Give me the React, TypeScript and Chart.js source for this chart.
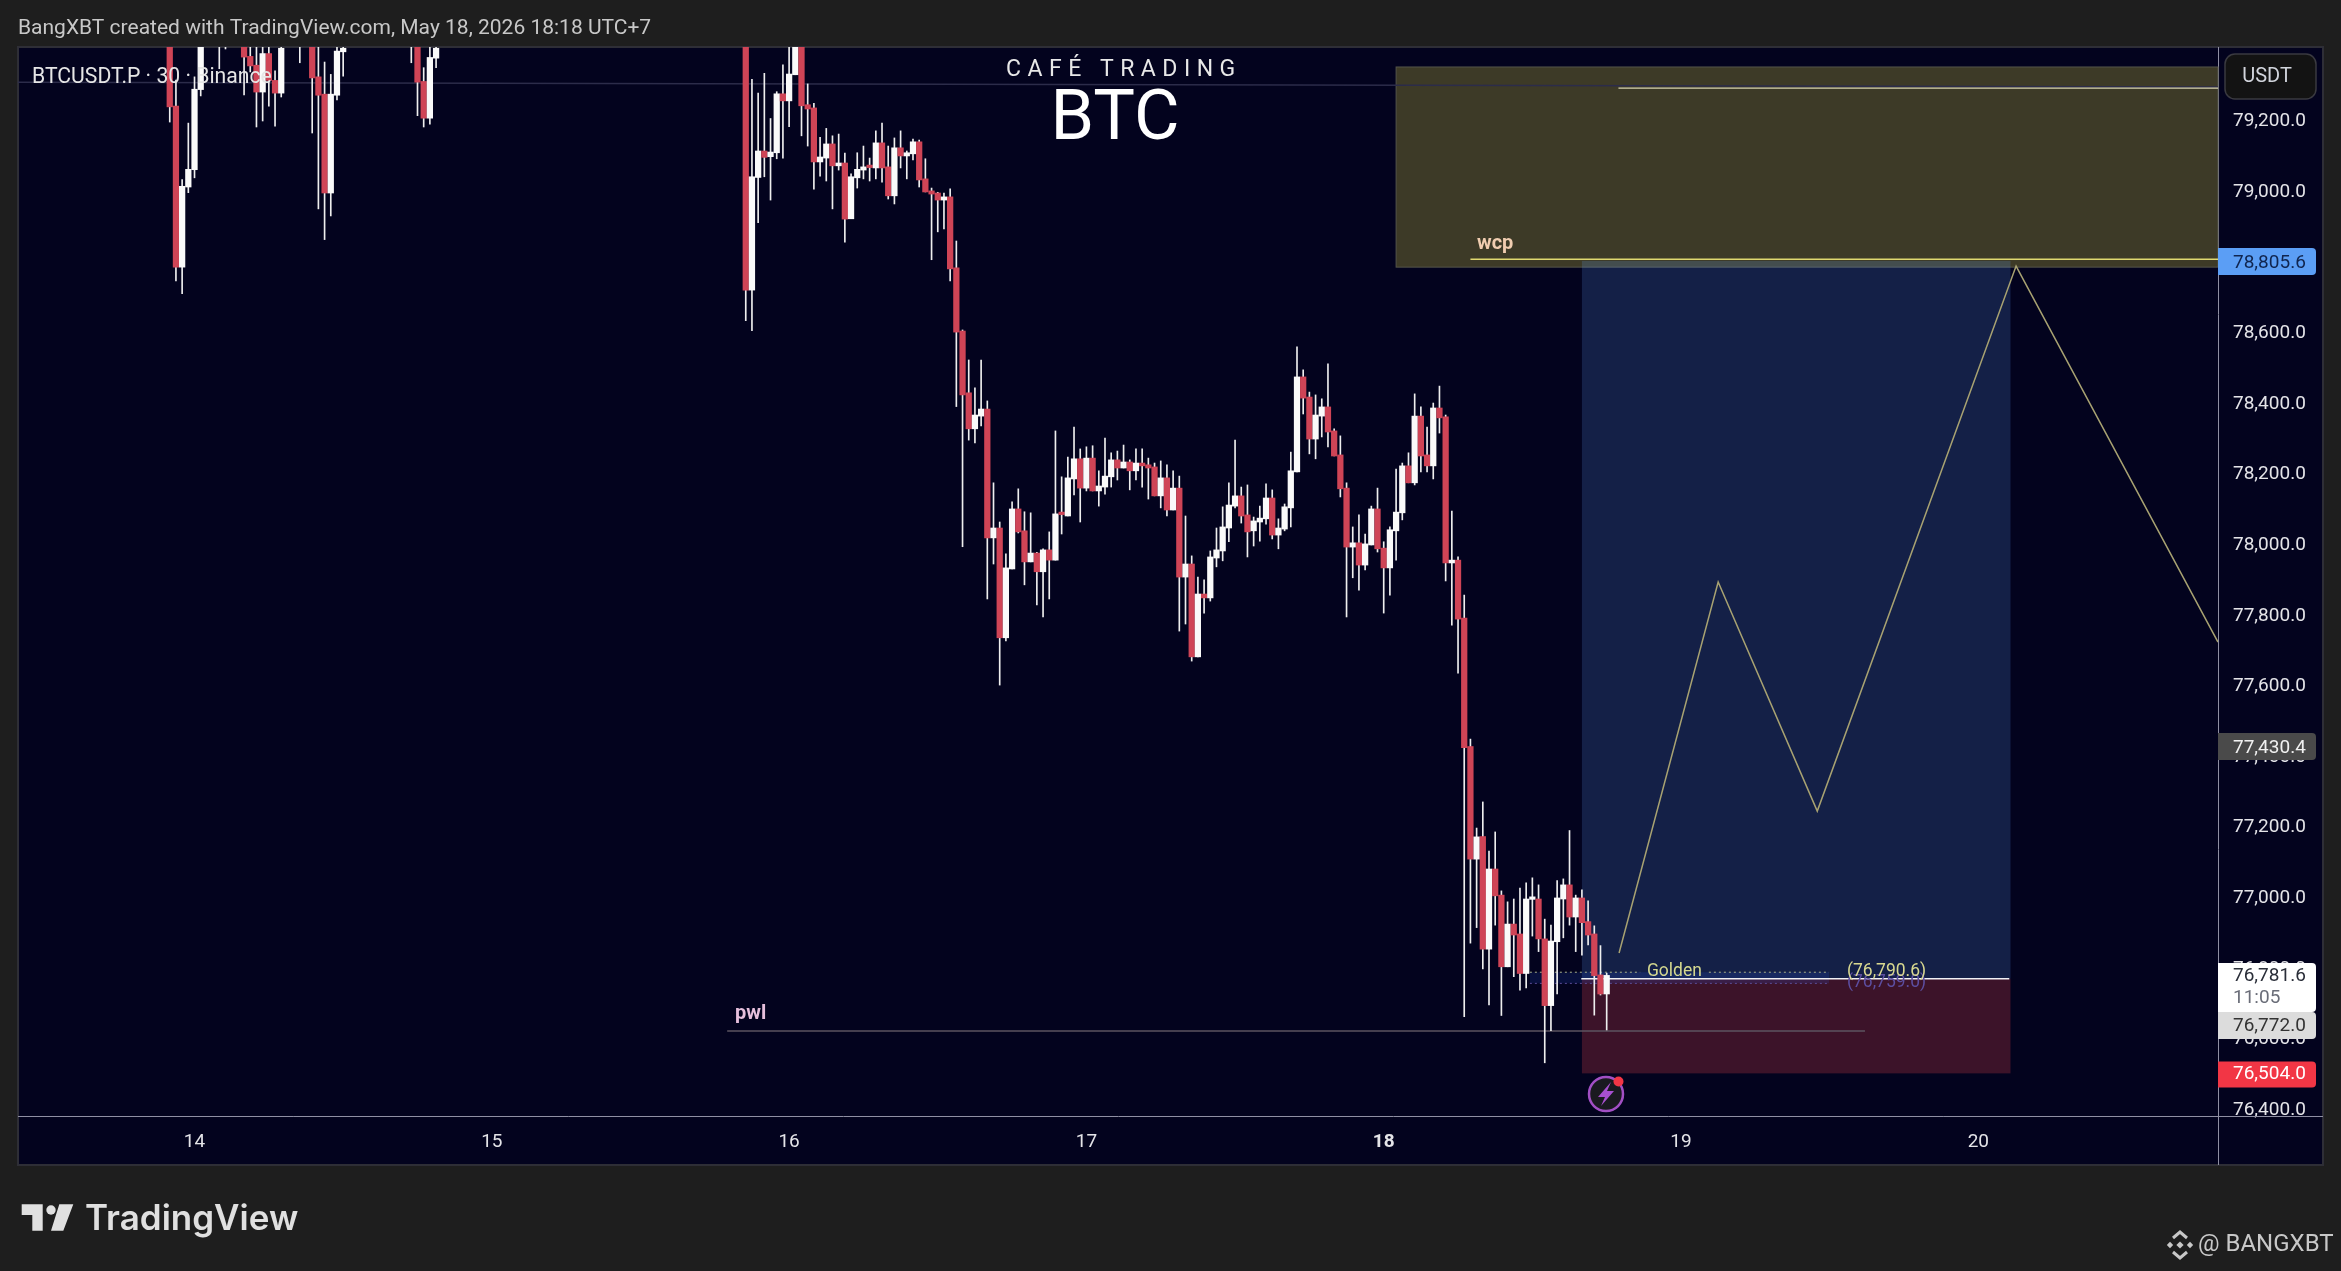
import React, { useEffect, useRef } from "react";
import { Chart, registerables } from "chart.js";

Chart.register(...registerables);

// Candle slot: number of 30-minute bars since May 14 00:00
const candleSlots = [-4,-3,-2,-1,0,1,4,5,8,9,10,11,12,13,14,17,19,20,21,22,23,24,35,36,37,38,39,
  89,90,91,92,93,94,95,96,97,98,99,100,101,102,103,104,105,106,107,108,109,110,111,112,113,114,115,116,117,118,119,120,121,122,123,124,125,126,127,128,129,130,131,132,133,134,135,136,137,138,139,140,141,142,143,144,145,146,147,148,149,150,151,152,153,154,155,156,157,158,159,160,161,162,163,164,165,166,167,168,169,170,171,172,173,174,175,176,177,178,179,180,181,182,183,184,185,186,187,188,189,190,191,192,193,194,195,196,197,198,199,200,201,202,203,204,205,206,207,208,209,210,211,212,213,214,215,216,217,218,219,220,221,222,223,224,225,226,227,228];

const opens = [79500,79244,78788,79015,79064,79291,79500,79450,79500,79385,79360,79284,79393,79317,79281,79450,79500,79327,79278,78998,79275,79398,79450,79500,79314,79210,79380,
  79500,78723,79042,79117,79101,79112,79279,79259,79333,79500,79248,79239,79086,79097,79137,79075,79083,78925,79041,79063,79073,79069,79140,79072,78990,79126,79103,79109,79143,79038,79004,78998,78978,78987,78786,78607,78432,78330,78366,78386,78021,78049,77738,77933,78103,78041,77953,77978,77925,77987,77958,78090,78083,78188,78245,78162,78247,78154,78165,78194,78242,78219,78236,78211,78233,78228,78222,78140,78191,78100,78162,77910,77947,77684,77862,77851,77964,77984,78049,78111,78140,78086,78041,78066,78075,78134,78029,78046,78106,78208,78477,78420,78301,78366,78392,78324,78256,78162,77995,78007,77944,78001,78103,77992,77936,78041,78092,78225,78177,78366,78256,78225,78389,78364,77950,77958,77794,77430,77111,77175,76856,77083,77009,76806,76927,76899,76787,76997,76998,76885,76696,76877,76998,77038,76947,77001,76934,76899,76783,76729];

const closes = [79242,78788,79017,79065,79292,79500,79520,79500,79383,79358,79284,79393,79317,79281,79408,79480,79324,79275,78998,79278,79400,79408,79470,79312,79210,79382,79408,
  78723,79044,79117,79099,79114,79279,79259,79335,79500,79245,79236,79086,79100,79137,79075,79083,78924,79044,79065,79072,79070,79140,79069,78990,79126,79103,79112,79143,79035,79001,78995,78978,78987,78783,78604,78426,78330,78369,78386,78021,78049,77738,77936,78103,78038,77953,77978,77925,77987,77958,78089,78087,78191,78245,78162,78247,78154,78168,78196,78242,78219,78236,78211,78233,78225,78219,78140,78191,78100,78162,77910,77947,77684,77862,77851,77967,77987,78052,78114,78140,78083,78038,78069,78077,78134,78029,78049,78109,78211,78477,78417,78301,78369,78392,78321,78253,78160,77995,78007,77944,78004,78103,77990,77936,78044,78094,78225,78177,78366,78253,78225,78389,78361,77950,77958,77791,77427,77111,77174,76856,77083,77007,76806,76927,76896,76787,76998,77000,76885,76696,76879,77001,77038,76947,77001,76931,76896,76781,76729,76781.6];

const highs = [79600,79318,79036,79196,79327,79550,79600,79550,79550,79500,79500,79500,79500,79344,79500,79520,79550,79500,79369,79334,79500,79500,79520,79550,79353,79500,79500,
  79550,79320,79281,79337,79209,79285,79361,79450,79550,79550,79307,79252,79156,79181,79160,79165,79111,79052,79112,79131,79097,79174,79196,79131,79154,79174,79117,79151,79148,79095,79012,79000,78998,79010,78862,78610,78525,78446,78525,78409,78177,78066,77976,78123,78160,78095,78092,77980,77990,78038,78324,78194,78250,78335,78273,78279,78282,78211,78304,78262,78267,78284,78242,78273,78273,78247,78233,78239,78228,78211,78196,78083,77970,77910,77902,77984,78049,78109,78177,78298,78165,78171,78080,78111,78174,78157,78075,78117,78264,78562,78497,78434,78426,78415,78514,78330,78310,78177,78052,78086,78032,78111,78162,78010,78052,78216,78233,78262,78429,78392,78335,78403,78451,78369,78097,77967,77859,77451,77199,77273,77134,77188,77021,76990,76998,77029,77044,77058,77038,76941,76924,77050,77055,77192,77009,77024,76993,76922,76866,76788];

const lows = [79199,78749,78713,78999,79041,79273,79350,79406,79276,79341,79185,79202,79244,79187,79270,79367,79168,78953,78866,78933,79262,79329,79367,79217,79185,79193,79353,
  78636,78608,78914,79044,78978,79095,79097,79186,79333,79160,79131,79009,79046,79032,78953,79063,78859,78925,79012,79038,79032,79038,79029,78981,78967,79069,79038,79092,79015,79001,78809,78888,78896,78749,78393,77996,78298,78290,78338,77848,77947,77604,77729,77933,78035,77888,77953,77831,77797,77848,77958,78032,78083,78143,78066,78154,78154,78111,78145,78165,78185,78219,78157,78185,78165,78131,78140,78106,78083,78100,77757,77777,77672,77684,77808,77842,77939,77956,78010,78106,78063,77967,77998,78012,78060,78018,77990,78041,78052,78208,78372,78259,78245,78307,78279,78253,78137,77797,77908,77873,77930,78001,77981,77808,77859,77958,78072,78177,78171,78208,78208,78188,78318,77899,77774,77638,76665,76873,76917,76800,76698,76924,76668,76806,76778,76740,76746,76893,76849,76534,76625,76729,76888,76924,76849,76839,76868,76669,76726,76627];

const priceTicks = [76400,76600,76800,77000,77200,77400,77600,77800,78000,78200,78400,78600,78800,79000,79200];
const dayTicks = [0,48,96,144,192,240,288];
const dayLabels = ["14","15","16","17","18","19","20"];
const boldDay = "18";

const forecastSlots = [230,246,262,294.1,326.7];
const forecastPrices = [76845,77896,77247,78791,77726];

const faintLineSlots = [-28.5,326.7];
const faintLinePrices = [79312,79298];
const creamLineSlots = [229.9,326.7];
const creamLinePrice = 79295;
const wcpSlots = [206,326.7];
const wcpPrice = 78810;
const pwlSlots = [86,269.7];
const pwlPrice = 76624;
const entrySlots = [223.9,293];
const entryPrice = 76772;
const stopPrice = 76504;
const targetPrice = 78805.6;
const goldenPrice = 76790.6;
const purplePrice = 76759;
const goldenLeft = [215.6,233.4];
const goldenRight = [244.5,263.9];
const purpleSlots = [215.6,263.9];
const supplyZone = { slots: [194,326.7], prices: [79355,78788] };
const positionSlots = [224,293.2];

const X_MIN = -28.5;
const X_MAX = 326.7;
const Y_MIN = 76383.3;
const Y_MAX = 79411.6;
const FONT = "Roboto, sans-serif";

const hline = (slots: number[], price: number) => slots.map((x) => ({ x, y: price }));

function text(ctx: any, s: string, x: number, y: number, font: string, color: string, align = "left", spacing = "0px") {
  ctx.save();
  ctx.font = font;
  ctx.fillStyle = color;
  ctx.textAlign = align;
  ctx.textBaseline = "middle";
  ctx.letterSpacing = spacing;
  ctx.fillText(s, x, y);
  ctx.restore();
}

function priceTag(ctx: any, top: number, h: number, bg: string) {
  ctx.fillStyle = bg;
  ctx.beginPath();
  ctx.roundRect(2218, top, 98, h, [0, 4, 4, 0]);
  ctx.fill();
}

const paintBack = {
  id: "paintBack",
  beforeDraw(chart: any) {
    const { ctx } = chart;
    ctx.save();
    ctx.fillStyle = "#1e1e1e";
    ctx.fillRect(0, 0, 2341, 1271);
    ctx.fillStyle = "#03031e";
    ctx.fillRect(18, 47, 2305, 1118);
    ctx.strokeStyle = "#2e2e36";
    ctx.lineWidth = 2;
    ctx.strokeRect(18, 47, 2305, 1118);
    ctx.restore();
  },
  beforeDatasetsDraw(chart: any) {
    const { ctx, scales } = chart;
    const x = scales.x, y = scales.y;
    const rect = (a: number, b: number, p: number, q: number, c: string) => {
      const xa = x.getPixelForValue(a), xb = x.getPixelForValue(b);
      const ya = y.getPixelForValue(p), yb = y.getPixelForValue(q);
      ctx.fillStyle = c;
      ctx.fillRect(xa, ya, xb - xa, yb - ya);
    };
    ctx.save();
    rect(supplyZone.slots[0], supplyZone.slots[1], supplyZone.prices[0], supplyZone.prices[1], "#3d3a27");
    const xs = x.getPixelForValue(supplyZone.slots[0]);
    const ys = y.getPixelForValue(supplyZone.prices[0]);
    const ye = y.getPixelForValue(supplyZone.prices[1]);
    ctx.strokeStyle = "#55554a";
    ctx.lineWidth = 1;
    ctx.strokeRect(xs, ys, x.right - xs, ye - ys);
    rect(positionSlots[0], positionSlots[1], targetPrice, entryPrice, "rgba(98,160,250,0.19)");
    rect(positionSlots[0], positionSlots[1], entryPrice, stopPrice, "#3c1329");
    rect(purpleSlots[0], purpleSlots[1], goldenPrice, purplePrice, "rgba(41,98,255,0.14)");
    ctx.restore();
  },
  afterDraw(chart: any) {
    const { ctx, scales } = chart;
    const x = scales.x, y = scales.y;
    ctx.save();
    // axis extensions
    ctx.strokeStyle = "#8f8fa3";
    ctx.lineWidth = 1;
    ctx.beginPath();
    ctx.moveTo(2218.5, 1116);
    ctx.lineTo(2218.5, 1165);
    ctx.moveTo(2218, 1116.5);
    ctx.lineTo(2323, 1116.5);
    ctx.stroke();

    // header and footer
    text(ctx, "BangXBT created with TradingView.com, May 18, 2026 18:18 UTC+7", 18, 28.5, `400 21px ${FONT}`, "#c8c8c8");
    text(ctx, "BTCUSDT.P · 30 · Binance", 32, 78, `400 21.2px ${FONT}`, "#e6e6e6");
    text(ctx, "CAFÉ TRADING", 1006, 70, `400 23px ${FONT}`, "#e8e8e8", "left", "6.5px");
    text(ctx, "BTC", 1115, 121, `400 70px ${FONT}`, "#ffffff", "center");

    // drawing labels
    text(ctx, "wcp", 1477, 243.5, `700 20px ${FONT}`, "#f0cdb0");
    text(ctx, "pwl", 735, 1014, `700 20px ${FONT}`, "#e6bfdc");
    const gy = y.getPixelForValue(goldenPrice);
    const py = y.getPixelForValue(purplePrice);
    text(ctx, "(76,759.0)", x.getPixelForValue(266.8), py - 1, `400 17.5px ${FONT}`, "#5c4ea0");
    text(ctx, "Golden", x.getPixelForValue(234.5), gy - 1, `400 17.5px ${FONT}`, "#d4d88f");
    text(ctx, "(76,790.6)", x.getPixelForValue(266.8), gy - 1, `400 17.5px ${FONT}`, "#d8d890");

    // USDT button
    ctx.fillStyle = "#131313";
    ctx.strokeStyle = "#3a3a40";
    ctx.lineWidth = 1.5;
    ctx.beginPath();
    ctx.roundRect(2225, 54, 91, 45, 10);
    ctx.fill();
    ctx.stroke();
    text(ctx, "USDT", 2267, 77, `400 20px ${FONT}`, "#d1d4dc", "center");

    // price tags
    const tagFont = `400 19px ${FONT}`;
    const ty = y.getPixelForValue(targetPrice);
    priceTag(ctx, ty - 13, 27, "#5b9ef5");
    text(ctx, "78,805.6", 2233, ty + 2, tagFont, "#10254f");
    priceTag(ctx, 733, 27, "#4a4a4a");
    text(ctx, "77,430.4", 2233, 748, tagFont, "#f0f0f0");
    priceTag(ctx, 963, 49, "#ffffff");
    text(ctx, "76,781.6", 2233, 976, tagFont, "#2a2e39");
    text(ctx, "11:05", 2233, 998, tagFont, "#6a6d78");
    priceTag(ctx, 1012, 27, "#dcdcdc");
    text(ctx, "76,772.0", 2233, 1026, tagFont, "#333333");
    const sy = y.getPixelForValue(stopPrice);
    priceTag(ctx, sy - 12, 26, "#f23645");
    text(ctx, "76,504.0", 2233, sy + 1, tagFont, "#ffffff");

    // alert icon
    ctx.fillStyle = "#1a1a20";
    ctx.strokeStyle = "#a24fc4";
    ctx.lineWidth = 2.5;
    ctx.beginPath();
    ctx.arc(1606, 1094, 17, 0, Math.PI * 2);
    ctx.fill();
    ctx.stroke();
    ctx.fillStyle = "#a850d0";
    ctx.beginPath();
    [[5,-12],[-8,3],[-1,3],[-5,12],[8,-3],[1,-3]].forEach(([a, b], k) => {
      if (k === 0) ctx.moveTo(1606 + a, 1094 + b);
      else ctx.lineTo(1606 + a, 1094 + b);
    });
    ctx.closePath();
    ctx.fill();
    ctx.fillStyle = "#f23645";
    ctx.beginPath();
    ctx.arc(1618.5, 1081.5, 5, 0, Math.PI * 2);
    ctx.fill();

    // TradingView logo
    ctx.fillStyle = "#e0e0e0";
    ctx.beginPath();
    ctx.moveTo(21.7, 1204.3);
    ctx.lineTo(42.7, 1204.3);
    ctx.lineTo(42.7, 1230.7);
    ctx.lineTo(32.3, 1230.7);
    ctx.lineTo(32.3, 1215);
    ctx.lineTo(21.7, 1215);
    ctx.closePath();
    ctx.moveTo(59.3, 1204.3);
    ctx.lineTo(73.3, 1204.3);
    ctx.lineTo(63.3, 1230.7);
    ctx.lineTo(51, 1230.7);
    ctx.closePath();
    ctx.fill();
    ctx.beginPath();
    ctx.arc(51, 1210, 4.7, 0, Math.PI * 2);
    ctx.fill();
    text(ctx, "TradingView", 85, 1219, `600 35px Inter, ${FONT}`, "#e0e0e0");

    // Watermark
    ctx.fillStyle = "#c8c8c8";
    const diamond = (cx: number, cy: number, r: number) => {
      ctx.beginPath();
      ctx.moveTo(cx, cy - r);
      ctx.lineTo(cx + r, cy);
      ctx.lineTo(cx, cy + r);
      ctx.lineTo(cx - r, cy);
      ctx.closePath();
      ctx.fill();
    };
    diamond(2180, 1245, 3.6);
    diamond(2170, 1245, 3.2);
    diamond(2190, 1245, 3.2);
    ctx.strokeStyle = "#c8c8c8";
    ctx.lineWidth = 3;
    ctx.beginPath();
    ctx.moveTo(2173, 1238);
    ctx.lineTo(2180, 1232);
    ctx.lineTo(2187, 1238);
    ctx.moveTo(2173, 1252);
    ctx.lineTo(2180, 1258);
    ctx.lineTo(2187, 1252);
    ctx.stroke();
    text(ctx, "@ BANGXBT", 2198, 1245, `400 24px ${FONT}`, "#c8c8c8");
    ctx.restore();
  },
};

export default function App() {
  const ref = useRef<HTMLCanvasElement | null>(null);
  useEffect(() => {
    document.body.style.margin = "0";
    document.body.style.background = "#1e1e1e";
    const wicks = candleSlots.map((x, i) => ({ x, y: [lows[i], highs[i]] }));
    const bodies = candleSlots.map((x, i) => ({ x, y: [opens[i], closes[i]] }));
    const bodyColors = candleSlots.map((_, i) => (closes[i] >= opens[i] ? "#fafafa" : "#cf4456"));
    const line = (data: any[], color: string, width: number, order: number, dash: number[] = []) => ({
      type: "line",
      data,
      borderColor: color,
      borderWidth: width,
      borderDash: dash,
      pointRadius: 0,
      tension: 0,
      order,
      fill: false,
    });
    const chart = new Chart(ref.current as HTMLCanvasElement, {
      type: "bar",
      data: {
        datasets: [
          line(faintLineSlots.map((x, i) => ({ x, y: faintLinePrices[i] })), "#2c2c4a", 1.5, 6),
          line(hline(pwlSlots, pwlPrice), "#5c5560", 1.4, 5),
          line(hline(entrySlots, entryPrice), "#f0f0f5", 1.5, 4),
          line(hline(goldenLeft, goldenPrice), "#a9b08a", 1, 4, [2, 3]),
          line(hline(goldenRight, goldenPrice), "#a9b08a", 1, 4, [2, 3]),
          line(hline(purpleSlots, purplePrice), "#5a4c98", 1, 4, [2, 3]),
          { type: "bar", data: wicks, backgroundColor: "#eeeeee", barThickness: 1, grouped: false, order: 3, borderWidth: 0 },
          { type: "bar", data: bodies, backgroundColor: bodyColors, barThickness: 5.6, grouped: false, order: 2, borderWidth: 0, minBarLength: 2.5 },
          line(hline(creamLineSlots, creamLinePrice), "#d8d4b0", 1.3, 1),
          line(hline(wcpSlots, wcpPrice), "#e0d870", 1.5, 1),
          line(forecastSlots.map((x, i) => ({ x, y: forecastPrices[i] })), "#a8a272", 1.5, 0),
        ] as any,
      },
      options: {
        responsive: false,
        animation: false,
        devicePixelRatio: 1,
        parsing: undefined,
        layout: { padding: { left: 18, top: 47, right: 18, bottom: 106 } },
        plugins: { legend: { display: false }, tooltip: { enabled: false } },
        events: [],
        scales: {
          x: {
            type: "linear",
            min: X_MIN,
            max: X_MAX,
            offset: false,
            grid: { display: false, drawTicks: false },
            border: { display: true, color: "#8f8fa3", width: 1 },
            afterBuildTicks(s: any) {
              s.ticks = dayTicks.map((value) => ({ value }));
            },
            afterFit(s: any) {
              s.height = 49;
            },
            ticks: {
              autoSkip: false,
              maxRotation: 0,
              padding: 15,
              color: "#e4e4e8",
              font: (c: any) => ({
                family: "Roboto",
                size: 19,
                weight: dayLabels[dayTicks.indexOf(c.tick?.value)] === boldDay ? "700" : "400",
              }),
              callback: (v: any) => dayLabels[dayTicks.indexOf(v)],
            },
          },
          y: {
            type: "linear",
            position: "right",
            min: Y_MIN,
            max: Y_MAX,
            grid: { display: false, drawTicks: false },
            border: { display: true, color: "#8f8fa3", width: 1 },
            afterBuildTicks(s: any) {
              s.ticks = priceTicks.map((value) => ({ value }));
            },
            afterFit(s: any) {
              s.width = 105;
            },
            ticks: {
              autoSkip: false,
              padding: 15,
              crossAlign: "near",
              color: "#e4e4e8",
              font: { family: "Roboto", size: 19 },
              callback: (v: any) =>
                Number(v).toLocaleString("en-US", { minimumFractionDigits: 1, maximumFractionDigits: 1 }),
            },
          },
        },
      } as any,
      plugins: [paintBack],
    } as any);
    return () => chart.destroy();
  }, []);
  return <canvas ref={ref} width={2341} height={1271} style={{ display: "block" }} />;
}
